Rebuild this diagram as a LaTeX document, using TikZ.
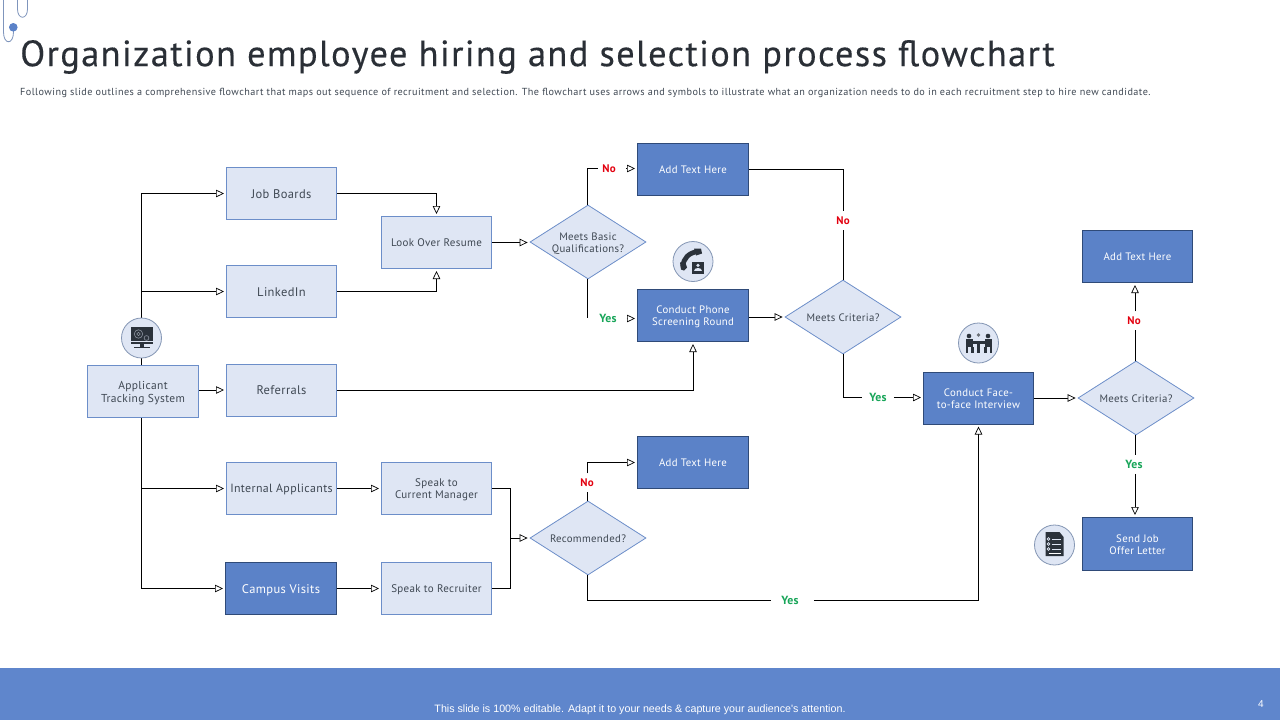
\documentclass[tikz,border=0pt]{standalone}
\usepackage{fontspec}
\setmainfont{PT Sans}
\newfontfamily\titlefont[LetterSpace=3.7,FakeBold=0.25]{PT Sans}
\newfontfamily\subfont[LetterSpace=4.25]{PT Sans}
\newfontfamily\bodyfont[LetterSpace=3]{PT Sans}
\newfontfamily\footfont{Liberation Sans}
\usetikzlibrary{arrows.meta,shapes.geometric,calc}
\definecolor{lightfill}{HTML}{DFE6F4}
\definecolor{lightedge}{HTML}{6C8EC9}
\definecolor{darkfill}{HTML}{5B82C8}
\definecolor{darkedge}{HTML}{2F4A78}
\definecolor{banner}{HTML}{5F86CC}
\definecolor{inktext}{HTML}{3F4853}
\definecolor{titleink}{HTML}{2A2F36}
\definecolor{yesgreen}{HTML}{17A558}
\definecolor{nored}{HTML}{E3000F}
\definecolor{iconink}{HTML}{2B323B}
\definecolor{iconedge}{HTML}{8496B4}
\definecolor{clipline}{HTML}{7F95BC}
\newcommand{\textprop}{\rule[-0.35em]{0pt}{1.45em}}
\newcommand{\lineat}[1]{\raisebox{-6.3pt}[0pt][0pt]{#1}}
\tikzset{
  x=1pt,y=-1pt,
  lightbox/.style={draw=lightedge,fill=lightfill,line width=.8pt,minimum width=110.2pt,minimum height=52.2pt,inner sep=0pt,align=center,text=inktext,font=\bodyfont\fontsize{11.5}{12.5}\selectfont,execute at begin node=\textprop},
  darkbox/.style={draw=darkedge,fill=darkfill,line width=.8pt,minimum width=111.2pt,minimum height=52.2pt,inner sep=0pt,align=center,text=white,font=\bodyfont\fontsize{10.8}{12}\selectfont,execute at begin node=\textprop},
  choice/.style={diamond,aspect=1.57,draw=lightedge,fill=lightfill,line width=.8pt,minimum width=116pt,minimum height=74pt,inner sep=0pt,align=center,text=inktext,font=\bodyfont\fontsize{10.8}{12}\selectfont,execute at begin node=\textprop},
  twoline/.style={execute at begin node={}},
  yeslabel/.style={text=yesgreen,font=\bodyfont\bfseries\fontsize{11.8}{12}\selectfont,inner sep=0pt},
  nolabel/.style={text=nored,font=\bodyfont\bfseries\fontsize{11}{12}\selectfont,inner sep=0pt},
  link/.style={draw=black,line width=.8pt},
  arrowlink/.style={link,-{Triangle[open,length=8pt,width=7.5pt,fill=white,line width=.7pt]},shorten >=2pt},
  iconring/.style={circle,draw=iconedge,fill=lightfill,line width=.8pt,minimum size=40pt,inner sep=0pt},
  clipstroke/.style={draw=clipline,line width=.8pt},
}
\begin{document}
\begin{tikzpicture}
\useasboundingbox (0,0) rectangle (1280,720);
\fill[white] (0,0) rectangle (1280,720);
% corner ornament
\draw[clipstroke] (3.5,-1) -- (3.5,32) .. controls (3.5,45) and (13.5,45) .. (13.5,32) -- (13.5,27);
\draw[clipstroke] (17.5,-1) -- (17.5,9) .. controls (17.5,20) and (27.5,20) .. (27.5,9) -- (27.5,-1);
\fill[darkfill] (13.3,27.3) circle (4.3);
% title
\node[anchor=west,inner sep=0pt,text=titleink,font=\titlefont\fontsize{36.5}{40}\selectfont] (title) at (20,57) {Organization employee hiring and selection process flowchart};
\node[anchor=west,inner sep=0pt,text=inktext,font=\subfont\fontsize{10.2}{12}\selectfont] (subtitle) at (20,92.5) {Following slide outlines a comprehensive flowchart that maps out sequence of recruitment and selection. The  flowchart uses arrows and symbols to illustrate what an organization needs to do in each recruitment step to hire new candidate.};
% footer
\fill[banner] (0,668) rectangle (1280,720);
\node[text=white,inner sep=0pt,font=\footfont\fontsize{10.7}{12}\selectfont] (foot) at (640,710) {This slide is 100\% editable.  Adapt it to your needs \& capture your audience's attention.};
\node[text=white,inner sep=0pt,font=\footfont\fontsize{10}{10}\selectfont] (page) at (1261,704) {4};
% boxes
\node[lightbox,twoline,minimum width=111.2pt] (ats) at (143,391.5) {\lineat{Applicant}\\\lineat{Tracking System}};
\node[lightbox,font=\bodyfont\fontsize{12.5}{14}\selectfont] (job) at (281.5,193.5) {Job Boards};
\node[lightbox,font=\bodyfont\fontsize{12.5}{14}\selectfont] (linkedin) at (281.5,291.5) {LinkedIn};
\node[lightbox,font=\bodyfont\fontsize{12.5}{14}\selectfont] (ref) at (281.5,390) {Referrals};
\node[lightbox,font=\bodyfont\fontsize{11.9}{14}\selectfont] (internal) at (281.5,488.5) {Internal Applicants};
\node[darkbox,font=\bodyfont\fontsize{12.5}{14}\selectfont] (campus) at (281,588.5) {Campus Visits};
\node[lightbox,font=\bodyfont\fontsize{11}{12}\selectfont] (resume) at (436.5,242.5) {Look Over Resume};
\node[lightbox,twoline,font=\bodyfont\fontsize{11}{12}\selectfont] (manager) at (436.5,488.5) {\lineat{Speak to}\\\lineat{Current Manager}};
\node[lightbox,font=\bodyfont\fontsize{11}{12}\selectfont] (recruiter) at (436.5,588.5) {Speak to Recruiter};
\node[darkbox] (add1) at (693,169.5) {Add Text Here};
\node[darkbox,twoline] (phone) at (693,315.5) {\lineat{Conduct Phone}\\\lineat{Screening Round}};
\node[darkbox] (add3) at (693,462.5) {Add Text Here};
\node[darkbox,twoline,minimum width=110.2pt] (face) at (978.5,398) {\lineat{Conduct Face-}\\\lineat{to-face Interview}};
\node[darkbox,minimum width=110.2pt] (add2) at (1137.5,256.5) {Add Text Here};
\node[darkbox,twoline,minimum width=110.2pt,minimum height=53.2pt] (offer) at (1137.5,544) {\lineat{Send Job}\\\lineat{Offer Letter}};
% decisions
\node[choice,twoline] (basic) at (588,242) {\lineat{Meets Basic}\\\lineat{Qualifications?}};
\node[choice] (crit1) at (843,317) {Meets Criteria?};
\node[choice] (rec) at (588,538) {Recommended?};
\node[choice] (crit2) at (1136,398) {Meets Criteria?};
% branch labels
\node[nolabel] (no1) at (609,168.5) {No};
\node[yeslabel] (yes1) at (608,318.5) {Yes};
\node[nolabel] (no2) at (843,220.5) {No};
\node[yeslabel] (yes2) at (878,397.5) {Yes};
\node[nolabel] (no3) at (587,482.5) {No};
\node[yeslabel] (yes3) at (790,600) {Yes};
\node[nolabel] (no4) at (1134,320.5) {No};
\node[yeslabel] (yes4) at (1134,464.5) {Yes};
% free ends and joints
\coordinate (yes1end) at (587.5,318);
\coordinate (join) at (510,538);
% left tree
\draw[arrowlink] (141.5,365) |- (job.west);
\draw[arrowlink] (141.5,365) |- (linkedin.west);
\draw[arrowlink] (141.5,418) |- (internal.west);
\draw[arrowlink] (141.5,418) |- (campus.west);
\draw[arrowlink] (ats.east |- ref.west) -- (ref.west);
% upper paths
\draw[arrowlink] (job.east) -| (resume.north);
\draw[arrowlink] (linkedin.east) -| (resume.south);
\draw[arrowlink] (resume.east) -- (basic.west |- resume.east);
\draw[link] (587.5,205) |- ([xshift=-4pt]no1.west);
\draw[arrowlink] ([xshift=10pt]no1.east) -- (add1.west |- no1);
\draw[link] (587.5,279) -- (yes1end);
\draw[arrowlink] ([xshift=10pt]yes1.east) -- (phone.west |- yes1);
\draw[arrowlink] (ref.east) -| (phone.south);
\draw[arrowlink] (phone.east |- crit1.west) -- (crit1.west);
\draw[link] (add1.east) -| ([yshift=5pt]no2.north);
\draw[link] (crit1.north) -- ([yshift=-5pt]no2.south);
\draw[link] (crit1.south) |- ([xshift=-7pt]yes2.west);
\draw[arrowlink] ([xshift=7pt]yes2.east) -- (face.west |- yes2);
\draw[arrowlink] (face.east) -- (crit2.west);
\draw[link] (1135,361) -- ([yshift=-5pt]no4.south -| 1135,0);
\draw[arrowlink] ([yshift=5pt]no4.north -| 1135,0) -- (add2.south -| 1135,0);
\draw[link] (1135,435) -- ([yshift=5pt]yes4.north -| 1135,0);
\draw[arrowlink] ([yshift=-5pt]yes4.south -| 1135,0) -- (offer.north -| 1135,0);
% lower paths
\draw[arrowlink] (internal.east) -- (manager.west);
\draw[arrowlink] (campus.east) -- (recruiter.west);
\draw[link] (manager.east) -| (join);
\draw[link] (recruiter.east) -| (join);
\draw[arrowlink] (join) -- (rec.west);
\draw[link] (587.5,501) -- ([yshift=-5pt]no3.south -| 587.5,0);
\draw[arrowlink] ([yshift=5pt]no3.north -| 587.5,0) |- (add3.west);
\draw[link] (587.5,575) |- ([xshift=-10pt]yes3.west);
\draw[arrowlink] ([xshift=15pt]yes3.east) -| (face.south);
% icons
\node[iconring] (icon1) at (141.5,338) {};
\node[iconring] (icon2) at (693,261.5) {};
\node[iconring] (icon3) at (978.5,343) {};
\node[iconring] (icon4) at (1054.5,545) {};
% monitor
\begin{scope}[shift={(icon1.center)}]
\fill[iconink] (-11,-11) rectangle (11,5.5);
\fill[iconink] (-2,5.5) rectangle (2,8.5);
\fill[iconink] (-8,8.5) rectangle (8,10);
\draw[iconink!45!lightfill,line width=.6pt] (-3,-4) circle (4.2);
\draw[iconink!45!lightfill,line width=.6pt] (-3,-4) circle (1.8);
\draw[iconink!45!lightfill,line width=.6pt] (5,0) circle (2.4);
\draw[lightfill,line width=.5pt] (-11,3.5) -- (11,3.5);
\end{scope}
% phone with badge
\begin{scope}[shift={(icon2.center)}]
\draw[iconink,line width=4.8pt,line cap=round] (-10,5) .. controls (-10,-3) and (-4,-9) .. (5,-10);
\fill[iconink] (-13,1) -- (-8,0) -- (-6,6) -- (-9,9) -- (-12,8) -- cycle;
\fill[iconink] (1,-13) -- (8,-13) -- (9,-8) -- (3,-6) -- cycle;
\fill[iconink] (-1,0) rectangle (11,12);
\fill[lightfill] (5,3.9) circle (1.8);
\fill[lightfill] (1.3,9.5) .. controls (1.3,5.5) and (8.7,5.5) .. (8.7,9.5) -- cycle;
\end{scope}
% people at table
\begin{scope}[shift={(icon3.center)}]
\fill[iconink] (-9.5,-7) circle (2.3);
\fill[iconink] (9.5,-7) circle (2.3);
\fill[iconink!70] (0,-8) circle (1.8);
\fill[iconink] (-13,-4) rectangle (-6,4);
\fill[iconink] (6,-4) rectangle (13,4);
\fill[iconink] (-7,-2) rectangle (7,1);
\fill[iconink] (-1.2,1) rectangle (1.2,10);
\fill[iconink] (-13,4) rectangle (-11,10);
\fill[iconink] (11,4) rectangle (13,10);
\fill[iconink] (-8,4) rectangle (-5,10);
\fill[iconink] (5,4) rectangle (8,10);
\end{scope}
% document with checklist
\begin{scope}[shift={(icon4.center)}]
\fill[iconink] (-9,-13) -- (5,-13) -- (9,-8) -- (9,11) -- (-9,11) -- cycle;
\foreach \yy in {-6,-1,4}{
  \draw[lightfill,line width=.6pt] (-6,\yy) circle (1.4);
  \draw[lightfill,line width=.7pt] (-3,\yy) -- (6,\yy);
}
\draw[white,line width=1pt] (-6,8.5) -- (6,8.5);
\end{scope}
\end{tikzpicture}
\end{document}
